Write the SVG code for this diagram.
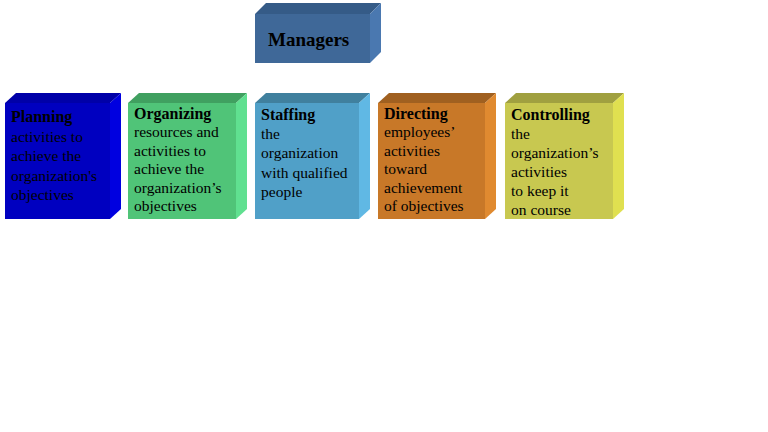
<svg xmlns="http://www.w3.org/2000/svg" width="768" height="432" viewBox="0 0 768 432">
<style>
text{font-family:"Liberation Serif","Times New Roman",serif;font-size:15.5px;fill:#000}
.t{font-weight:bold;font-size:16px}
.m{font-weight:bold;font-size:19px}
</style>
<rect width="768" height="432" fill="#fff"/>
<g id="managers">
<polygon points="255,14 266,3 381,3 370,14" fill="#355b87"/>
<polygon points="370,14 381,3 381,52 370,63" fill="#4a78b0"/>
<rect x="255" y="14" width="115" height="49" fill="#3f6898"/>
<text class="m" x="268" y="46">Managers</text>
</g>
<g id="planning">
<polygon points="5,103 16,93 121,93 110,103" fill="#0000a8"/>
<polygon points="110,103 121,93 121,209 110,219" fill="#0000e0"/>
<rect x="5" y="103" width="105" height="116" fill="#0000c0"/>
<text class="t" x="11" y="122">Planning</text>
<text x="11" y="142">activities to</text>
<text x="11" y="161">achieve the</text>
<text x="11" y="181">organization's</text>
<text x="11" y="200">objectives</text>
</g>
<g id="organizing">
<polygon points="128,103 139,93 247,93 236,103" fill="#40a060"/>
<polygon points="236,103 247,93 247,209 236,219" fill="#60e090"/>
<rect x="128" y="103" width="108" height="116" fill="#50c478"/>
<text class="t" x="134" y="119">Organizing</text>
<text x="134" y="137">resources and</text>
<text x="134" y="156">activities to</text>
<text x="134" y="174">achieve the</text>
<text x="134" y="193">organization’s</text>
<text x="134" y="211">objectives</text>
</g>
<g id="staffing">
<polygon points="255,103 266,93 370,93 359,103" fill="#40809e"/>
<polygon points="359,103 370,93 370,209 359,219" fill="#60b8e4"/>
<rect x="255" y="103" width="104" height="116" fill="#50a0c8"/>
<text class="t" x="261" y="120">Staffing</text>
<text x="261" y="139">the</text>
<text x="261" y="158">organization</text>
<text x="261" y="178">with qualified</text>
<text x="261" y="197">people</text>
</g>
<g id="directing">
<polygon points="378,103 389,93 496,93 485,103" fill="#a06020"/>
<polygon points="485,103 496,93 496,209 485,219" fill="#e08a30"/>
<rect x="378" y="103" width="107" height="116" fill="#c87828"/>
<text class="t" x="384" y="119">Directing</text>
<text x="384" y="137">employees’</text>
<text x="384" y="156">activities</text>
<text x="384" y="174">toward</text>
<text x="384" y="193">achievement</text>
<text x="384" y="211">of objectives</text>
</g>
<g id="controlling">
<polygon points="505,103 516,93 624,93 613,103" fill="#a0a040"/>
<polygon points="613,103 624,93 624,209 613,219" fill="#e0e050"/>
<rect x="505" y="103" width="108" height="116" fill="#c8c850"/>
<text class="t" x="511" y="120">Controlling</text>
<text x="511" y="139">the</text>
<text x="511" y="158">organization’s</text>
<text x="511" y="177">activities</text>
<text x="511" y="196">to keep it</text>
<text x="511" y="215">on course</text>
</g>
<g id="connectors"></g>
</svg>
